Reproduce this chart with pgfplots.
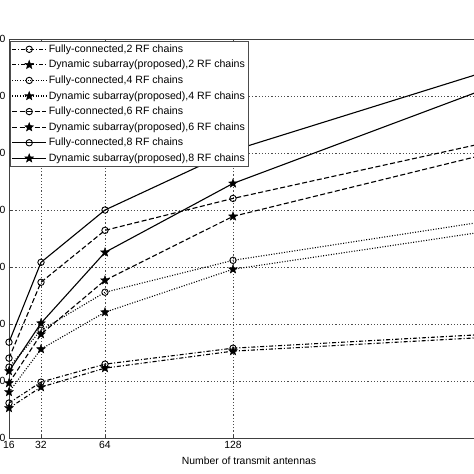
\documentclass[border=0pt]{standalone}
\usepackage{pgfplots}
\pgfplotsset{compat=1.18}
\usepackage{fontspec}
\setmainfont{Liberation Sans}
\pgfdeclareplotmark{pstar}{%
  \pgfpathmoveto{\pgfqpointpolar{90}{\pgfplotmarksize}}%
  \pgfpathlineto{\pgfqpointpolar{126}{0.42\pgfplotmarksize}}%
  \pgfpathlineto{\pgfqpointpolar{162}{\pgfplotmarksize}}%
  \pgfpathlineto{\pgfqpointpolar{198}{0.42\pgfplotmarksize}}%
  \pgfpathlineto{\pgfqpointpolar{234}{\pgfplotmarksize}}%
  \pgfpathlineto{\pgfqpointpolar{270}{0.42\pgfplotmarksize}}%
  \pgfpathlineto{\pgfqpointpolar{306}{\pgfplotmarksize}}%
  \pgfpathlineto{\pgfqpointpolar{342}{0.42\pgfplotmarksize}}%
  \pgfpathlineto{\pgfqpointpolar{18}{\pgfplotmarksize}}%
  \pgfpathlineto{\pgfqpointpolar{54}{0.42\pgfplotmarksize}}%
  \pgfpathclose
  \pgfusepathqfillstroke
}
\begin{document}
\begin{tikzpicture}
\tikzset{
  dd/.style={dash pattern=on 4pt off 2pt on 1pt off 2pt},
  ds/.style={dash pattern=on 5pt off 2.5pt},
  dt/.style={dash pattern=on 1pt off 1.6pt},
}
\begin{axis}[
  at={(0,0)}, anchor=south west,
  scale only axis, width=480pt, height=399pt,
  xmin=16, xmax=256, ymin=0, ymax=70,
  xtick={16,32,64,128,256},
  xticklabels={16,32,64,128,},
  ytick={0,10,20,30,40,50,60,70},
  tick align=inside, tickwidth=3pt,
  grid=major,
  major grid style={dash pattern=on 1.2pt off 2pt, black!70, line width=0.5pt},
  axis line style={black!75, line width=0.6pt},
  tick style={black!75},
  font=\fontsize{10.4}{12}\selectfont,
  /pgf/number format/assume math mode=true,
  xlabel={Number of transmit antennas},
  xlabel style={yshift=-1pt},
  legend cell align=left,
  legend style={at={(0.002,0.995)}, anchor=north west, draw=black!70, fill=white,
    font=\fontsize{10.6}{12}\selectfont, inner sep=1.5pt, row sep=2.4pt},
  legend image code/.code={\draw[mark repeat=2,mark phase=2,#1] plot coordinates {(0pt,0pt) (17pt,0pt) (34pt,0pt)};},
  every axis plot/.append style={line width=1.1pt, black},
  cmark/.style={mark=o, mark size=3.2pt, mark options={solid, line width=0.9pt}},
  smark/.style={mark=pstar, mark size=4.6pt, mark options={solid, fill=black, line width=0.4pt}},
]
\addplot[dd, cmark] coordinates {(16,6.13)(32,9.81)(64,12.96)(128,15.76)(256,18.21)};
\addlegendentry{Fully-connected,2 RF chains}
\addplot[dd, smark] coordinates {(16,5.25)(32,8.93)(64,12.26)(128,15.24)(256,17.69)};
\addlegendentry{Dynamic subarray(proposed),2 RF chains}
\addplot[dt, cmark] coordinates {(16,12.43)(32,18.91)(64,25.57)(128,31.17)(256,38.09)};
\addlegendentry{Fully-connected,4 RF chains}
\addplot[dt, smark] coordinates {(16,8.06)(32,15.59)(64,22.07)(128,29.60)(256,36.32)};
\addlegendentry{Dynamic subarray(proposed),4 RF chains}
\addplot[ds, cmark] coordinates {(16,14.01)(32,27.32)(64,36.43)(128,42.03)(256,51.93)};
\addlegendentry{Fully-connected,6 RF chains}
\addplot[ds, smark] coordinates {(16,9.63)(32,18.21)(64,27.67)(128,38.88)(256,49.91)};
\addlegendentry{Dynamic subarray(proposed),6 RF chains}
\addplot[solid, cmark] coordinates {(16,16.81)(32,30.82)(64,40.0)(128,50.44)(256,64.45)};
\addlegendentry{Fully-connected,8 RF chains}
\addplot[solid, smark] coordinates {(16,11.73)(32,20.14)(64,32.57)(128,44.66)(256,61.47)};
\addlegendentry{Dynamic subarray(proposed),8 RF chains}
\end{axis}
\pgfresetboundingbox
\path[use as bounding box] (-9pt,-36pt) rectangle (465pt,438pt);
\end{tikzpicture}
\end{document}
